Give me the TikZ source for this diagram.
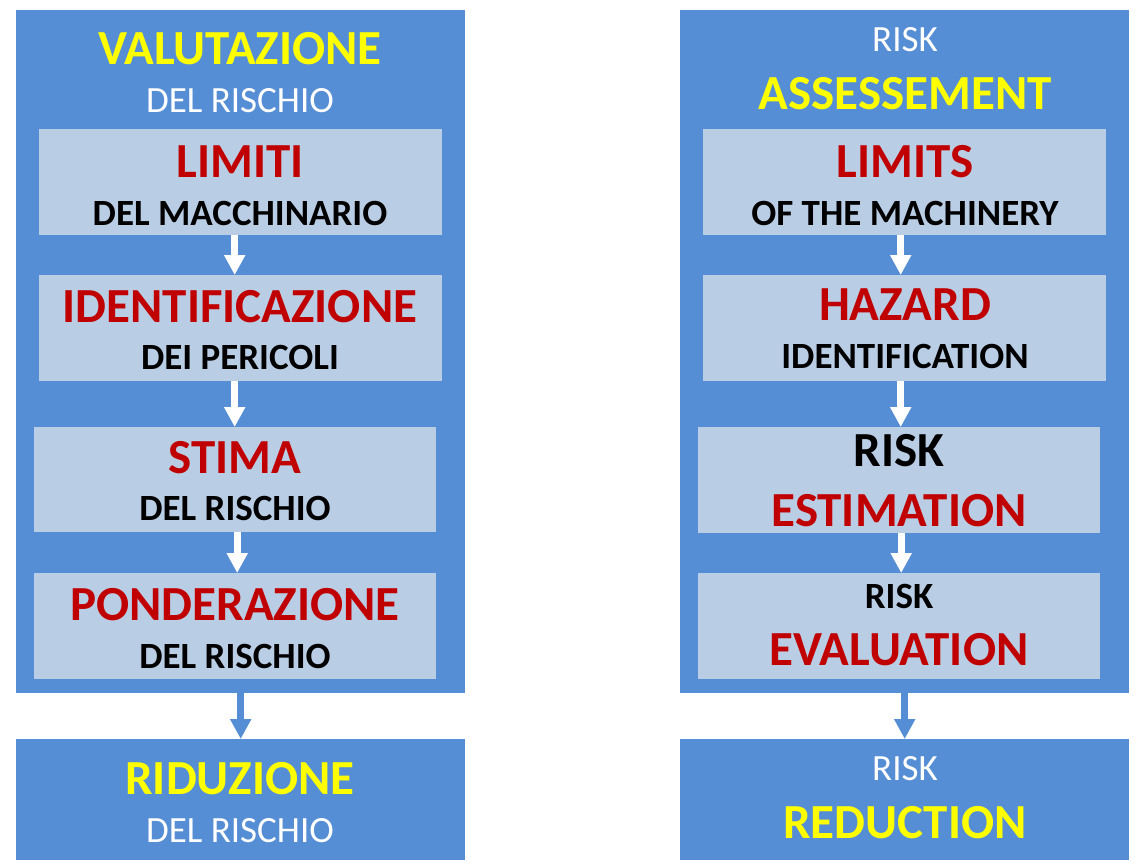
\documentclass[tikz,border=0pt]{standalone}
\usepackage{fontspec}
\setmainfont{Carlito}
\usetikzlibrary{arrows.meta}
\definecolor{outerblue}{RGB}{85,142,213}
\definecolor{innerblue}{RGB}{185,205,229}
\definecolor{riskred}{RGB}{192,0,0}
\definecolor{titleyellow}{RGB}{255,255,0}
\tikzset{
  outerbox/.style={fill=outerblue, draw=none, anchor=north west, inner sep=0pt},
  innerbox/.style={fill=innerblue, draw=none, anchor=north west, inner sep=0pt},
  bigtxt/.style={anchor=base, inner sep=0pt, font=\bfseries\fontsize{49}{49}\selectfont},
  midtxt/.style={anchor=base, inner sep=0pt, font=\fontsize{37}{37}\selectfont},
  midbold/.style={anchor=base, inner sep=0pt, font=\bfseries\fontsize{37}{37}\selectfont},
  whitearrow/.style={draw=white, line width=7pt, -{Triangle[width=20pt,length=20pt]}},
  bluearrow/.style={draw=outerblue, line width=7pt, -{Triangle[width=20pt,length=20pt]}}
}
\begin{document}
\begin{tikzpicture}[x=1pt,y=-1pt]
\useasboundingbox (0,0) rectangle (1143,867);
\fill[white] (0,0) rectangle (1143,867);
% ---------- left column ----------
\node[outerbox, minimum width=449pt, minimum height=683pt] (LO) at (16,10) {};
\node[innerbox, minimum width=403pt, minimum height=106pt] (L1) at (39,129) {};
\node[innerbox, minimum width=403pt, minimum height=106pt] (L2) at (39,275) {};
\node[innerbox, minimum width=402pt, minimum height=105pt] (L3) at (34,427) {};
\node[innerbox, minimum width=402pt, minimum height=106pt] (L4) at (34,573) {};
\node[outerbox, minimum width=449pt, minimum height=121pt] (LR) at (16,739) {};

\node[bigtxt, text=titleyellow] (lt1) at (240,65) {VALUTAZIONE};
\node[midtxt, text=white] (lt2) at (240,112) {DEL RISCHIO};
\node[bigtxt, text=riskred] (l1a) at (240,177) {LIMITI};
\node[midbold] (l1b) at (240,225) {DEL MACCHINARIO};
\node[bigtxt, text=riskred] (l2a) at (240,322) {IDENTIFICAZIONE};
\node[midbold] (l2b) at (240,369) {DEI PERICOLI};
\node[bigtxt, text=riskred] (l3a) at (235,473) {STIMA};
\node[midbold] (l3b) at (235,520) {DEL RISCHIO};
\node[bigtxt, text=riskred] (l4a) at (235,620) {PONDERAZIONE};
\node[midbold] (l4b) at (235,668) {DEL RISCHIO};
\node[bigtxt, text=titleyellow] (lra) at (240,794) {RIDUZIONE};
\node[midtxt, text=white] (lrb) at (240,842) {DEL RISCHIO};

\draw[whitearrow] ([xshift=-6pt]L1.south) -- ([xshift=-6pt]L1.south |- L2.north);
\draw[whitearrow] ([xshift=-6pt]L2.south) -- ([xshift=-6pt]L2.south |- L3.north);
\draw[whitearrow] ([xshift=2pt]L3.south) -- ([xshift=2pt]L3.south |- L4.north);
\draw[bluearrow] (LO.south) -- (LR.north);

% ---------- right column ----------
\node[outerbox, minimum width=449pt, minimum height=683pt] (RO) at (680,10) {};
\node[innerbox, minimum width=403pt, minimum height=106pt] (R1) at (703,129) {};
\node[innerbox, minimum width=403pt, minimum height=106pt] (R2) at (703,275) {};
\node[innerbox, minimum width=402pt, minimum height=106pt] (R3) at (698,427) {};
\node[innerbox, minimum width=402pt, minimum height=106pt] (R4) at (698,573) {};
\node[outerbox, minimum width=449pt, minimum height=121pt] (RR) at (680,739) {};

\node[midtxt, text=white] (rt1) at (905,52) {RISK};
\node[bigtxt, text=titleyellow] (rt2) at (905,109) {ASSESSEMENT};
\node[bigtxt, text=riskred] (r1a) at (905,177) {LIMITS};
\node[midbold] (r1b) at (905,225) {OF THE MACHINERY};
\node[bigtxt, text=riskred] (r2a) at (905,320) {HAZARD};
\node[midbold] (r2b) at (905,368) {IDENTIFICATION};
\node[bigtxt] (r3a) at (899,466) {RISK};
\node[bigtxt, text=riskred] (r3b) at (899,526) {ESTIMATION};
\node[midbold] (r4a) at (899,608) {RISK};
\node[bigtxt, text=riskred] (r4b) at (899,665) {EVALUATION};
\node[midtxt, text=white] (rra) at (905,780) {RISK};
\node[bigtxt, text=titleyellow] (rrb) at (905,838) {REDUCTION};

\draw[whitearrow] ([xshift=-4pt]R1.south) -- ([xshift=-4pt]R1.south |- R2.north);
\draw[whitearrow] ([xshift=-4pt]R2.south) -- ([xshift=-4pt]R2.south |- R3.north);
\draw[whitearrow] ([xshift=2pt]R3.south) -- ([xshift=2pt]R3.south |- R4.north);
\draw[bluearrow] (RO.south) -- (RR.north);
\end{tikzpicture}
\end{document}
